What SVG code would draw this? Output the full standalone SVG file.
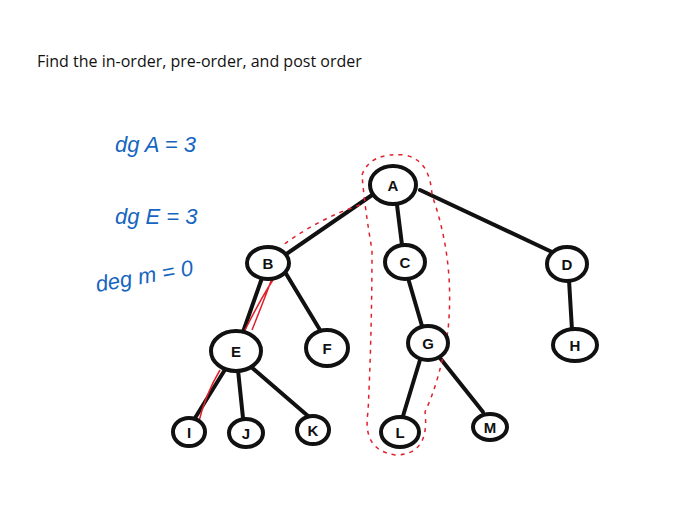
<svg xmlns="http://www.w3.org/2000/svg" width="685" height="512" viewBox="0 0 685 512">
<style>
.n ellipse{fill:#fff;stroke:#111;stroke-width:4}
.n text{font-family:"Liberation Sans",sans-serif;font-size:15px;font-weight:bold;text-anchor:middle;fill:#111}
.e line{stroke:#111;stroke-width:4;stroke-linecap:round}
.b{font-family:"Liberation Sans",sans-serif;font-size:22px;fill:#1565c0;font-style:italic}
.r{fill:none;stroke:#e0202a;stroke-width:1.5;stroke-dasharray:4 5}
</style>
<rect width="685" height="512" fill="#fff"/>
<text x="37" y="67" font-family="Open Sans,sans-serif" font-size="16" fill="#111">Find the in-order, pre-order, and post order</text>
<text class="b" x="115" y="152">dg A = 3</text>
<text class="b" x="115" y="224">dg E = 3</text>
<text class="b" x="97" y="292" transform="rotate(-10 97 292)">deg m = 0</text>
<g class="e" id="connectors">
<line x1="375" y1="193" x2="285" y2="255"/><line x1="397" y1="205" x2="402" y2="245"/><line x1="420" y1="190" x2="552" y2="252"/>
<line x1="262" y1="278" x2="243" y2="332"/><line x1="285" y1="272" x2="320" y2="330"/>
<line x1="408" y1="278" x2="422" y2="326"/><line x1="569" y1="280" x2="572" y2="330"/>
<line x1="226" y1="368" x2="195" y2="418"/><line x1="238" y1="370" x2="243" y2="418"/><line x1="250" y1="366" x2="308" y2="416"/>
<line x1="420" y1="360" x2="403" y2="416"/><line x1="440" y1="358" x2="483" y2="412"/>
</g>
<path class="r" d="M362 175 Q370 152 405 155 Q430 160 432 195 Q455 260 448 330 Q440 380 425 412 Q430 455 395 455 Q362 450 368 412 Q372 330 372 250 Q365 210 362 175"/>
<path class="r" d="M360 205 Q320 218 283 245"/>
<path fill="none" stroke="#e0202a" stroke-width="1.5" d="M283 265 Q265 290 245 330 M220 370 Q205 395 198 425 M275 270 Q268 290 252 330"/>
<g class="n" id="A"><ellipse cx="393" cy="185" rx="23" ry="19"/><text x="393" y="191">A</text></g>
<g class="n" id="B"><ellipse cx="268" cy="263" rx="21" ry="16"/><text x="268" y="269">B</text></g>
<g class="n" id="C"><ellipse cx="405" cy="262" rx="20" ry="17"/><text x="405" y="268">C</text></g>
<g class="n" id="D"><ellipse cx="567" cy="264" rx="20" ry="17"/><text x="567" y="270">D</text></g>
<g class="n" id="E"><ellipse cx="236" cy="351" rx="25" ry="20"/><text x="236" y="357">E</text></g>
<g class="n" id="F"><ellipse cx="327" cy="348" rx="21" ry="18"/><text x="327" y="354">F</text></g>
<g class="n" id="G"><ellipse cx="428" cy="343" rx="20" ry="17"/><text x="428" y="349">G</text></g>
<g class="n" id="H"><ellipse cx="575" cy="345" rx="22" ry="16"/><text x="575" y="351">H</text></g>
<g class="n" id="I"><ellipse cx="189" cy="432" rx="16" ry="14"/><text x="189" y="438">I</text></g>
<g class="n" id="J"><ellipse cx="246" cy="433" rx="17" ry="14"/><text x="246" y="439">J</text></g>
<g class="n" id="K"><ellipse cx="313" cy="430" rx="16" ry="14"/><text x="313" y="436">K</text></g>
<g class="n" id="L"><ellipse cx="400" cy="432" rx="19" ry="15"/><text x="400" y="438">L</text></g>
<g class="n" id="M"><ellipse cx="490" cy="427" rx="17" ry="13"/><text x="490" y="433">M</text></g>
</svg>
